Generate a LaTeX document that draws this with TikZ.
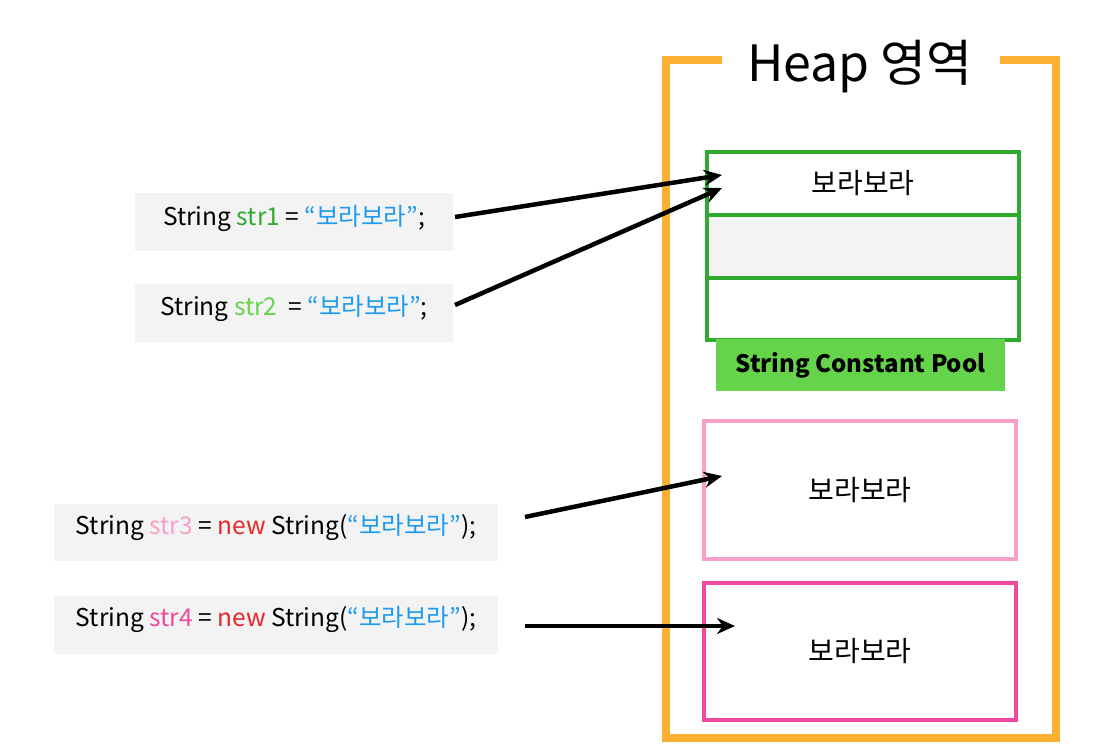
\documentclass[tikz,border=0pt]{standalone}
\usepackage{fontspec}
\setmainfont{Noto Sans CJK KR}
\usetikzlibrary{arrows.meta}
\definecolor{og}{HTML}{FBB034}
\definecolor{gg}{HTML}{2EAA2E}
\definecolor{lg}{HTML}{66D44A}
\definecolor{lp}{HTML}{F7A1C9}
\definecolor{hp}{HTML}{F0489A}
\definecolor{rd}{HTML}{E8262A}
\definecolor{bl}{HTML}{1E9BF0}
\definecolor{gy}{HTML}{F3F3F3}
\begin{document}
\begin{tikzpicture}[x=1pt,y=-1pt,
  code/.style={fill=gy,font=\fontsize{24.5}{28}\selectfont},
  arr/.style={line width=4.5pt,-{Stealth[length=18pt,width=16pt]}},
  txt/.style={font=\fontsize{28}{32}\selectfont}]
\useasboundingbox (0,0) rectangle (1110,752);
% heap frame
\draw[og,line width=7.5pt] (722,60) -- (666,60) -- (666,738) -- (1056,738) -- (1056,60) -- (1000,60);
\node[font=\fontsize{50}{56}\selectfont] (title) at (860,67) {Heap 영역};
% pool
\fill[gy] (707,215) rectangle (1019,278);
\draw[gg,line width=3.5pt] (707,152) rectangle (1019,340);
\draw[gg,line width=3.5pt] (707,215) -- (1019,215) (707,278) -- (1019,278);
\node[txt] (p1) at (863,183) {보라보라};
\node[fill=lg,minimum width=289pt,minimum height=52pt,font=\fontsize{24}{28}\selectfont\bfseries] (pool) at (860.5,365) {String Constant Pool};
\node[draw=lp,line width=3.5pt,minimum width=312pt,minimum height=138pt,txt] (h3) at (860,490) {보라보라};
\node[draw=hp,line width=3.5pt,minimum width=312pt,minimum height=137pt,txt] (h4) at (860,651.5) {보라보라};
% code
\fill[gy] (135,193) rectangle (453,251);
\fill[gy] (135,284) rectangle (453,342);
\fill[gy] (54,504) rectangle (498,561);
\fill[gy] (54,596) rectangle (498,654);
\node[code,fill=none] (c1) at (294,218) {String \textcolor{gg}{str1} = \textcolor{bl}{“보라보라”};};
\node[code,fill=none] (c2) at (294,308) {String \textcolor{lg}{str2}\ \ = \textcolor{bl}{“보라보라”};};
\node[code,fill=none] (c3) at (276,527) {String \textcolor{lp}{str3} = \textcolor{rd}{new} String(\textcolor{bl}{“보라보라”});};
\node[code,fill=none] (c4) at (276,619) {String \textcolor{hp}{str4} = \textcolor{rd}{new} String(\textcolor{bl}{“보라보라”});};
\coordinate (a1) at (455,217); \coordinate (t1) at (722,175);
\coordinate (a2) at (455,305); \coordinate (t2) at (722,188);
\coordinate (a3) at (525,517); \coordinate (t3) at (722,476);
\coordinate (a4) at (525,626); \coordinate (t4) at (735,626);
\draw[arr] (a1) -- (t1);
\draw[arr] (a2) -- (t2);
\draw[arr] (a3) -- (t3);
\draw[arr] (a4) -- (t4);
\end{tikzpicture}
\end{document}
